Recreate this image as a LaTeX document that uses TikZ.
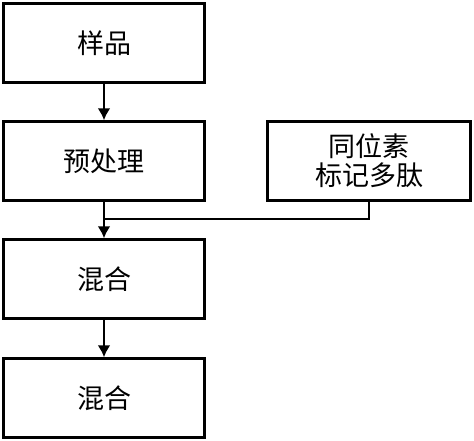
\documentclass[tikz,border=0pt]{standalone}
\usepackage{fontspec}
\newfontfamily\cjk{Noto Sans CJK SC}
\usetikzlibrary{arrows.meta}
\usetikzlibrary{positioning}

\begin{document}
\begin{tikzpicture}[x=1pt,y=-1pt]
\useasboundingbox (0,0) rectangle (474,440);
\tikzset{box/.style={rectangle, draw=black, line width=2.4pt, minimum width=201pt, minimum height=79pt, font=\cjk\fontsize{27}{29}\selectfont, align=center, inner sep=0pt}}
\tikzset{link/.style={draw=black, line width=2.4pt}}
\tikzset{arr/.style={link, -{Latex[length=12pt,width=13pt]}}}
\node [box] (S) at (104, 43) {样品};
\node [box] (P) at (104, 161) {预处理};
\node [box, minimum width=203pt] (L) at (369, 161) {同位素\\标记多肽};
\node [box] (M1) at (104, 279) {混合};
\node [box] (M2) at (104, 398) {混合};
\coordinate (J) at (104, 219);
\draw [arr] (S) to (P);
\draw [arr] (P) to (M1);
\draw [link] (L.south) |- (J);
\draw [arr] (M1) to (M2);
\end{tikzpicture}
\end{document}
